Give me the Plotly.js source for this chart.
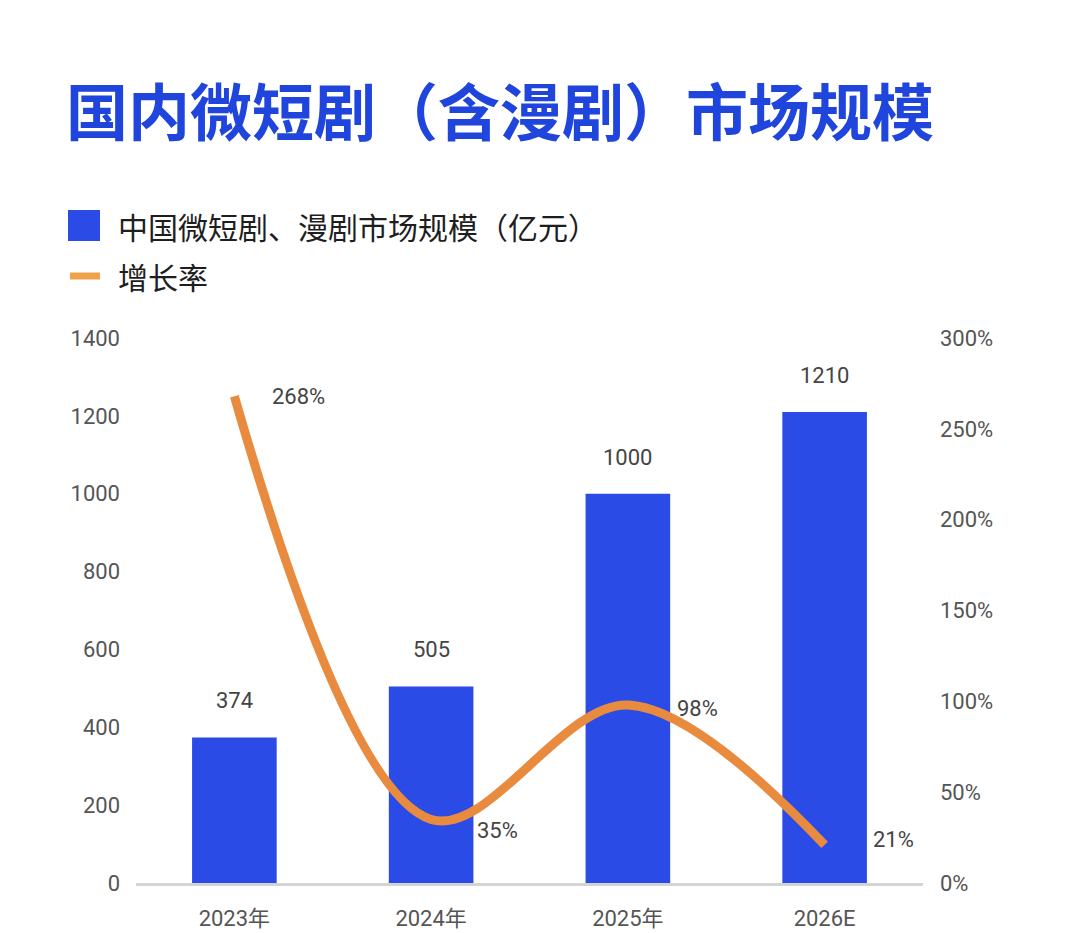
<!DOCTYPE html>
<html>
<head>
<meta charset="utf-8">
<script src="https://cdn.plot.ly/plotly-3.0.1.min.js"></script>
<style>html,body{margin:0;padding:0;background:#fff;}#chart{width:1080px;height:933px;}</style>
</head>
<body>
<div id="chart"></div>
<script>
var categories = ['2023年', '2024年', '2025年', '2026E'];
var marketSize = [374, 505, 1000, 1210];
var growthRate = [268, 35, 98, 21];
var leftTicks = [0, 200, 400, 600, 800, 1000, 1200, 1400];
var rightTicks = [0, 50, 100, 150, 200, 250, 300];
var seriesNames = ['中国微短剧、漫剧市场规模（亿元）', '增长率'];
var titleText = '国内微短剧（含漫剧）市场规模';

var W = 1080, H = 933, ML = 136, MR = 157, MT = 338, MB = 50;
var PW = W - ML - MR, PH = H - MT - MB;
function px(x) { return (x - ML) / PW; }
function py(y) { return (H - MB - y) / PH; }

var numFont = 'Roboto, "Liberation Sans", Arial, sans-serif';
var cjkFont = '"Noto Sans CJK SC", "Noto Sans", sans-serif';
var blue = '#2b4be7';
var orange = '#e98b3e';

var bars = {
  type: 'bar', x: categories, y: marketSize, name: seriesNames[0],
  marker: {color: blue}, yaxis: 'y', hoverinfo: 'skip'
};
var line = {
  type: 'scatter', mode: 'lines', x: categories, y: growthRate, name: seriesNames[1],
  yaxis: 'y2', line: {color: orange, width: 9, shape: 'spline', smoothing: 1.0},
  hoverinfo: 'skip'
};

var annotations = [];
categories.forEach(function (c, i) {
  annotations.push({
    x: c, y: marketSize[i], xref: 'x', yref: 'y', text: String(marketSize[i]),
    showarrow: false, xanchor: 'center', yanchor: 'bottom', yshift: 22,
    font: {family: numFont, size: 22, color: '#444'}
  });
});
var gShiftX = [36, 44, 47, 46];
var gShiftY = [0, -11, -4, 5];
categories.forEach(function (c, i) {
  annotations.push({
    x: c, y: growthRate[i], xref: 'x', yref: 'y2', text: growthRate[i] + '%',
    showarrow: false, xanchor: 'left', yanchor: 'middle',
    xshift: gShiftX[i], yshift: gShiftY[i],
    font: {family: numFont, size: 22, color: '#444'}
  });
});
annotations.push({
  x: px(116), y: py(226), xref: 'paper', yref: 'paper', text: seriesNames[0],
  showarrow: false, xanchor: 'left', yanchor: 'middle',
  font: {family: cjkFont, size: 30, color: '#1e1e1e'}
});
annotations.push({
  x: px(116), y: py(276), xref: 'paper', yref: 'paper', text: seriesNames[1],
  showarrow: false, xanchor: 'left', yanchor: 'middle',
  font: {family: cjkFont, size: 30, color: '#1e1e1e'}
});

var shapes = [
  {type: 'rect', xref: 'paper', yref: 'paper', x0: px(68), x1: px(100), y0: py(241), y1: py(210),
   fillcolor: blue, line: {width: 0}},
  {type: 'line', xref: 'paper', yref: 'paper', x0: px(70), x1: px(100), y0: py(276), y1: py(276),
   line: {color: '#f0a24a', width: 7}}
];

var layout = {
  width: W, height: H,
  margin: {l: ML, r: MR, t: MT, b: MB, pad: 0},
  paper_bgcolor: '#fff', plot_bgcolor: '#fff',
  showlegend: false,
  bargap: 0.57,
  title: {
    text: '<b>' + titleText + '</b>', xref: 'container', yref: 'container',
    x: 66 / W, xanchor: 'left', y: 1 - 114 / H, yanchor: 'middle',
    font: {family: cjkFont, size: 62, color: '#1f45dc'}
  },
  xaxis: {
    type: 'category', showgrid: false, zeroline: false,
    showline: true, linecolor: '#d4d4d4', linewidth: 3,
    ticks: '', ticklabelstandoff: 14,
    tickfont: {family: numFont + ', ' + cjkFont, size: 22, color: '#555'}
  },
  yaxis: {
    range: [0, 1400], tickvals: leftTicks, showgrid: false, zeroline: false,
    showline: false, ticks: '', ticklabelstandoff: 15,
    tickfont: {family: numFont, size: 22, color: '#555'}
  },
  yaxis2: {
    range: [0, 300], tickvals: rightTicks,
    ticktext: rightTicks.map(function (v) { return v + '%'; }),
    overlaying: 'y', side: 'right',
    showgrid: false, zeroline: false, showline: false, ticks: '', ticklabelstandoff: 16,
    tickfont: {family: numFont, size: 22, color: '#555'}
  },
  annotations: annotations,
  shapes: shapes
};

Plotly.newPlot('chart', [bars, line], layout, {displayModeBar: false, staticPlot: true});
</script>
</body>
</html>
